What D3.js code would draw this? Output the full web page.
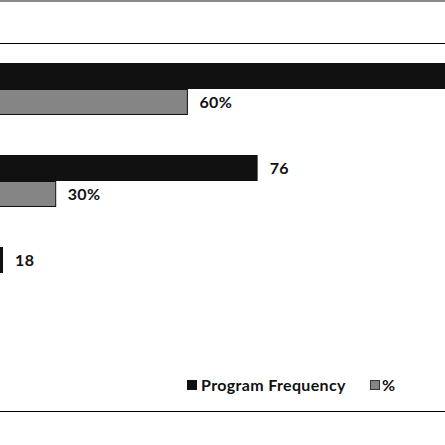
<!DOCTYPE html>
<html><head><meta charset="utf-8">
<script src="https://cdn.jsdelivr.net/npm/d3@7"></script>
<style>html,body{margin:0;padding:0;background:#fff;}svg{display:block;}</style>
</head><body>
<svg id="c" width="445" height="445"></svg>
<script>
const categories = ["A", "B", "C"];
const frequency = [155, 76, 18];
const percent = [60, 30, 7];
const percentLabels = ["60%", "30%", "7%"];
const seriesNames = ["Program Frequency", "%"];

const svg = d3.select("#c");
const W = 445;
const font = "Lato, 'Open Sans', sans-serif";
const fs = 16, ls = 0.35;

// frame lines
svg.append("rect").attr("x",0).attr("y",0).attr("width",W).attr("height",2).attr("fill","#8a8a8a");
svg.append("line").attr("x1",0).attr("x2",W).attr("y1",43.5).attr("y2",43.5).attr("stroke","#000").attr("stroke-width",1);
svg.append("line").attr("x1",0).attr("x2",W).attr("y1",411.5).attr("y2",411.5).attr("stroke","#000").attr("stroke-width",1);

const x = d3.scaleLinear().domain([0, 100]).range([-76, -76 + 439]);
const y = d3.scaleBand().domain(categories).range([43, 319]).paddingInner(40/92).paddingOuter(20/92);
const sub = d3.scaleBand().domain([0,1]).range([0, y.bandwidth()]);

function label(px, py, txt) {
  if (px < 0 || px > W - 5) return; // label lies outside the visible crop
  g.append("text").attr("x", px).attr("y", py)
    .attr("dy", "0.36em").attr("font-family", font).attr("font-weight", "bold").attr("font-size", fs)
    .attr("letter-spacing", ls).attr("fill", "#111").text(txt);
}

const g = svg.append("g");
categories.forEach((c, i) => {
  const y0 = y(c);
  g.append("rect").attr("x", x(0)).attr("y", y0 + sub(0))
    .attr("width", x(frequency[i]) - x(0)).attr("height", sub.bandwidth())
    .attr("fill", "#111111");
  label(x(frequency[i]) + 12, y0 + sub(0) + sub.bandwidth()/2, frequency[i]);
  g.append("rect").attr("x", x(0)).attr("y", y0 + sub(1) + 0.5)
    .attr("width", x(percent[i]) - x(0)).attr("height", sub.bandwidth() - 1)
    .attr("fill", "#858585").attr("stroke", "#111").attr("stroke-width", 1);
  label(x(percent[i]) + 12, y0 + sub(1) + sub.bandwidth()/2, percentLabels[i]);
});

// legend
const leg = svg.append("g");
leg.append("rect").attr("x", 187).attr("y", 380).attr("width", 10).attr("height", 10).attr("fill", "#111");
leg.append("text").attr("x", 201).attr("y", 385).attr("dy", "0.36em").attr("font-family", font)
  .attr("font-weight", "bold").attr("font-size", fs).attr("letter-spacing", ls).attr("fill", "#111").text(seriesNames[0]);
leg.append("rect").attr("x", 370.5).attr("y", 380.5).attr("width", 9).attr("height", 9).attr("fill", "#858585").attr("stroke","#333").attr("stroke-width",1);
leg.append("text").attr("x", 382).attr("y", 385).attr("dy", "0.36em").attr("font-family", font)
  .attr("font-weight", "bold").attr("font-size", fs).attr("letter-spacing", ls).attr("fill", "#111").text(seriesNames[1]);
</script>
</body></html>
